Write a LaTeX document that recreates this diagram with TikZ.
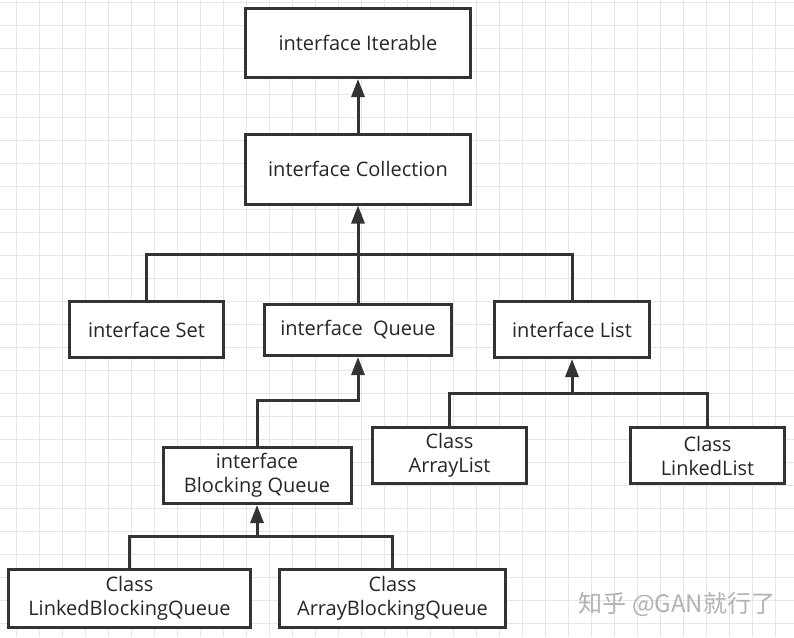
\documentclass[tikz,border=0pt]{standalone}
\usepackage{fontspec}
\setmainfont{Open Sans}
\newfontfamily\cjk{Noto Sans CJK SC}
\usetikzlibrary{arrows.meta}
\definecolor{linegray}{HTML}{333333}
\definecolor{gridgray}{HTML}{E6E6E6}

\begin{document}
\begin{tikzpicture}[x=1pt,y=-1pt,
  box/.style={draw=linegray,line width=3pt,fill=white,inner sep=0pt,align=center,
    text=black!85,font=\fontsize{20}{24}\selectfont},
  link/.style={draw=linegray,line width=3pt},
  inherit/.style={link,-{Triangle[width=13pt,length=18pt]}},
  gridline/.style={draw=gridgray,line width=0.8pt}]
\fill[white] (0,0) rectangle (794,637);
\useasboundingbox (0,0) rectangle (794,637);
\foreach \gx in {16,39,...,794} \draw[gridline] (\gx,0) -- (\gx,637);
\foreach \gy in {2,25,...,637} \draw[gridline] (0,\gy) -- (794,\gy);

\node[box,minimum width=225,minimum height=69] (iterable) at (358,43) {interface Iterable};
\node[box,minimum width=225,minimum height=70] (collection) at (358,169) {interface Collection};
\node[box,minimum width=154,minimum height=56] (set) at (146.5,329.5) {interface Set};
\node[box,minimum width=187,minimum height=51] (queue) at (358,330) {interface\ \ Queue};
\node[box,minimum width=155,minimum height=56] (list) at (572,329.5) {interface List};
\node[box,minimum width=188,minimum height=56] (blocking) at (257,475.5) {interface\\Blocking Queue};
\node[box,minimum width=154,minimum height=56] (arraylist) at (449.5,455.5) {Class\\ArrayList};
\node[box,minimum width=154,minimum height=56] (linkedlist) at (707.5,455.5) {Class\\LinkedList};
\node[box,minimum width=242,minimum height=58] (linkedbq) at (129.5,598.5) {Class\\LinkedBlockingQueue};
\node[box,minimum width=226,minimum height=58] (arraybq) at (392.5,598.5) {Class\\ArrayBlockingQueue};

\coordinate (fork1) at (358,254);
\coordinate (qjoin) at (358,400);
\coordinate (fork2) at (572,393);
\coordinate (fork3) at (257,536);

\draw[inherit] (collection.north) -- (iterable.south);
\draw[link] (set.north) |- (fork1) -| (list.north);
\draw[link] (queue.north) -- (fork1);
\draw[inherit] (fork1) -- (collection.south);
\draw[inherit] (blocking.north) |- (qjoin) -- (queue.south);
\draw[link] (arraylist.north) |- (fork2) -| (linkedlist.north);
\draw[inherit] (fork2) -- (list.south);
\draw[link] (linkedbq.north) |- (fork3) -| (arraybq.north);
\draw[inherit] (fork3) -- (blocking.south);

\node[text=gray!60,font=\cjk\fontsize{24}{28}\selectfont] (mark) at (677,604) {知乎 @GAN就行了};
\end{tikzpicture}
\end{document}
